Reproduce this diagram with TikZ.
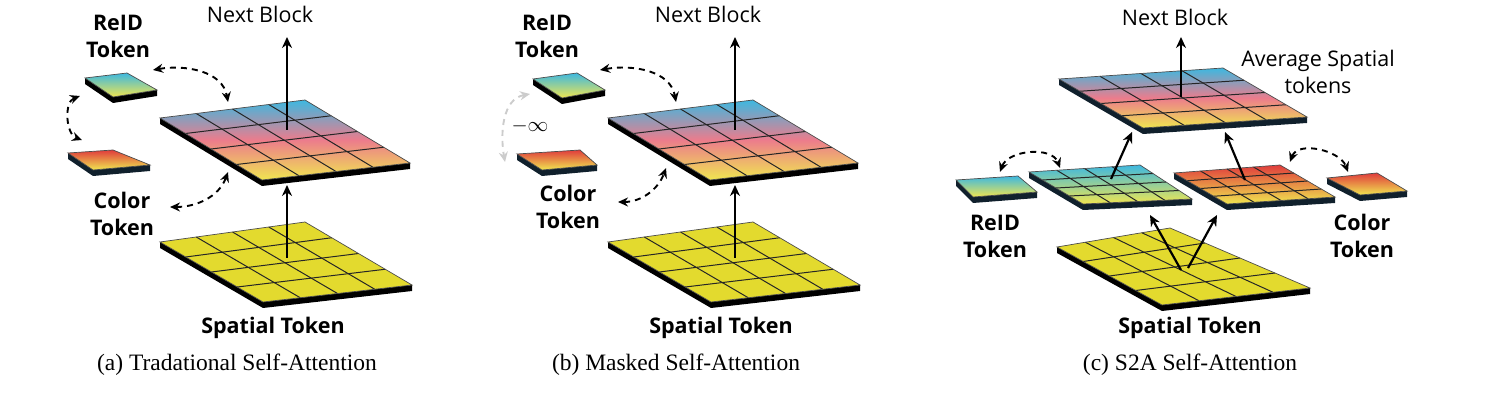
\documentclass[tikz,border=0pt]{standalone}
\usepackage{fontspec}
\setmainfont{Liberation Serif}
\newfontfamily\lab{Open Sans}
\usetikzlibrary{calc,arrows.meta}
\definecolor{cb}{HTML}{3DB8E0}
\definecolor{cp}{HTML}{EC7C8C}
\definecolor{cy}{HTML}{F0E650}
\definecolor{cr}{HTML}{E03C3C}
\definecolor{sy}{HTML}{E3DA2E}
\definecolor{edge}{HTML}{10202C}
\tikzset{
  lbl/.style={font=\lab\bfseries\fontsize{21.5}{27}\selectfont, align=center},
  lbln/.style={font=\lab\fontsize{21.5}{27}\selectfont, align=center},
  captxt/.style={font=\fontsize{23.5}{26}\selectfont},
  arr/.style={-{Stealth[length=11pt,width=10pt]}, line width=2.2pt},
  darr/.style={{Stealth[length=10pt,width=9pt]}-{Stealth[length=10pt,width=9pt]}, line width=1.9pt, dash pattern=on 6pt off 5pt},
  garr/.style={darr, draw=black!20},
}
% #1..#4 corners L,B,R,F ; #5 shading options ; #6 grid (1/0) ; #7 side colour
\newcommand\tokplane[7]{%
  \fill[#7] (#1) -- (#4) -- (#3) -- ($(#3)+(0,6)$) -- ($(#4)+(0,6)$) -- ($(#1)+(0,6)$) -- cycle;
  \shade[#5] (#1) -- (#2) -- (#3) -- (#4) -- cycle;
  \ifnum#6=1
  \foreach \t in {0.25,0.5,0.75}{
    \draw[line width=1pt, black!85] ($(#1)!\t!(#2)$) -- ($(#4)!\t!(#3)$);
    \draw[line width=1pt, black!85] ($(#1)!\t!(#4)$) -- ($(#2)!\t!(#3)$);
  }\fi
  \draw[line width=0.7pt, black!70] (#1) -- (#2) -- (#3) -- (#4) -- cycle;
}
\begin{document}
\begin{tikzpicture}[x=1pt,y=-1pt]
\useasboundingbox (0,0) rectangle (1494,411);
\tikzset{bpc/.style={bottom color=cy, top color=cb, middle color=cp},
         ylw/.style={top color=sy,bottom color=sy},
         by/.style={bottom color=cy, top color=cb},
         ry/.style={bottom color=cy, top color=cr}}
% ---------- panel (a) and (b)
\foreach \dx/\p in {0/a,448/b}{
\begin{scope}[xshift=\dx]
\coordinate (\p TL) at (160,118); \coordinate (\p TB) at (305,100);
\coordinate (\p TR) at (410,163); \coordinate (\p TF) at (262,180);
\coordinate (\p SL) at (160,242); \coordinate (\p SB) at (305,222);
\coordinate (\p SR) at (412,285); \coordinate (\p SF) at (263,302);
\tokplane{\p SL}{\p SB}{\p SR}{\p SF}{ylw}{1}{black}
\tokplane{\p TL}{\p TB}{\p TR}{\p TF}{bpc}{1}{black}
\coordinate (\p tt) at (287,130); \coordinate (\p nb) at (287,37);
\coordinate (\p st) at (287,258); \coordinate (\p tb) at (287,185);
\draw[arr] (\p tt) -- (\p nb);
\draw[arr] (\p st) -- (\p tb);
\node[lbln] (\p next) at (260,14) {Next Block};
\node[lbl] (\p spat) at (273,328) {Spatial Token};
\end{scope}}
% small tokens (a)
\coordinate (aRL) at (85,78); \coordinate (aRB) at (127,73); \coordinate (aRR) at (157,90); \coordinate (aRF) at (113,97);
\tokplane{aRL}{aRB}{aRR}{aRF}{bottom color=cy,middle color=cr,top color=cb}{0}{black}
\coordinate (aCL) at (68,153); \coordinate (aCB) at (113,150); \coordinate (aCR) at (150,165); \coordinate (aCF) at (93,170);
\tokplane{aCL}{aCB}{aCR}{aCF}{bottom color=cy,middle color=cb,top color=cr}{0}{edge}
\node[lbl] (areid) at (118,36) {ReID\\Token};
\node[lbl] (acol) at (122,214) {Color\\Token};
\node[captxt] (acap) at (237,365) {(a) Tradational Self-Attention};
\coordinate (a1) at (153,70); \coordinate (a2) at (228,102);
\coordinate (a3) at (170,207); \coordinate (a4) at (228,172);
\coordinate (a5) at (80,96); \coordinate (a6) at (82,140);
\draw[darr] (a1) to[out=10,in=100] (a2);
\draw[darr] (a3) to[out=0,in=-110] (a4);
\draw[darr] (a5) to[out=200,in=160] (a6);
% small tokens (b)
\coordinate (bRL) at (533,79); \coordinate (bRB) at (577,73); \coordinate (bRR) at (605,90); \coordinate (bRF) at (562,98);
\tokplane{bRL}{bRB}{bRR}{bRF}{by}{0}{black}
\coordinate (bCL) at (517,154); \coordinate (bCB) at (580,150); \coordinate (bCR) at (597,165); \coordinate (bCF) at (542,170);
\tokplane{bCL}{bCB}{bCR}{bCF}{ry}{0}{edge}
\node[lbl] (breid) at (547,36) {ReID\\Token};
\node[lbl] (bcol) at (568,207) {Color\\Token};
\node[captxt] (bcap) at (676,365) {(b) Masked Self-Attention};
\node[font=\fontsize{22}{24}\selectfont] (binf) at (530,126) {$-\infty$};
\coordinate (b1) at (600,70); \coordinate (b2) at (676,102);
\coordinate (b3) at (618,202); \coordinate (b4) at (666,168);
\coordinate (b5) at (530,94); \coordinate (b6) at (505,162);
\draw[darr] (b1) to[out=10,in=100] (b2);
\draw[darr] (b3) to[out=0,in=-110] (b4);
\draw[garr] (b5) to[out=190,in=100] (b6);
% ---------- panel (c)
\coordinate (cSL) at (1057,247); \coordinate (cSB) at (1170,228); \coordinate (cSR) at (1310,288); \coordinate (cSF) at (1162,305);
\tokplane{cSL}{cSB}{cSR}{cSF}{ylw}{1}{black}
\coordinate (cTL) at (1059,79); \coordinate (cTB) at (1223,68); \coordinate (cTR) at (1307,117); \coordinate (cTF) at (1143,128);
\tokplane{cTL}{cTB}{cTR}{cTF}{bpc}{1}{edge}
\coordinate (cML) at (1029,172); \coordinate (cMB) at (1140,165); \coordinate (cMR) at (1192,199); \coordinate (cMF) at (1083,204);
\tokplane{cML}{cMB}{cMR}{cMF}{by}{1}{edge}
\coordinate (cNL) at (1174,173); \coordinate (cNB) at (1280,165); \coordinate (cNR) at (1335,197); \coordinate (cNF) at (1227,204);
\tokplane{cNL}{cNB}{cNR}{cNF}{ry}{1}{edge}
\coordinate (cRL) at (956,180); \coordinate (cRB) at (1018,176); \coordinate (cRR) at (1037,192); \coordinate (cRF) at (973,197);
\tokplane{cRL}{cRB}{cRR}{cRF}{by}{0}{edge}
\coordinate (cCL) at (1327,178); \coordinate (cCB) at (1377,173); \coordinate (cCR) at (1407,191); \coordinate (cCF) at (1360,195);
\tokplane{cCL}{cCB}{cCR}{cCF}{ry}{0}{edge}
\coordinate (c1) at (1181,97); \coordinate (c2) at (1181,37);
\coordinate (c3) at (1111,179); \coordinate (c4) at (1132,132);
\coordinate (c5) at (1245,180); \coordinate (c6) at (1225,132);
\coordinate (c7) at (1181,270); \coordinate (c8) at (1150,215);
\coordinate (c9) at (1188,268); \coordinate (c10) at (1217,215);
\draw[arr] (c1) -- (c2);
\draw[arr] (c3) -- (c4);
\draw[arr] (c5) -- (c6);
\draw[arr] (c7) -- (c8);
\draw[arr] (c9) -- (c10);
\coordinate (d1) at (1000,172); \coordinate (d2) at (1060,168);
\coordinate (d3) at (1290,162); \coordinate (d4) at (1348,172);
\draw[darr] (d1) to[out=70,in=110] (d2);
\draw[darr] (d3) to[out=70,in=110] (d4);
\node[lbln] (cnext) at (1175,17) {Next Block};
\node[lbln] (cavg) at (1318,72) {Average Spatial\\tokens};
\node[lbl] (creid) at (995,236) {ReID\\Token};
\node[lbl] (ccol) at (1362,236) {Color\\Token};
\node[lbl] (cspat) at (1190,328) {Spatial Token};
\node[captxt] (ccap) at (1190,365) {(c) S2A Self-Attention};
\end{tikzpicture}
\end{document}
